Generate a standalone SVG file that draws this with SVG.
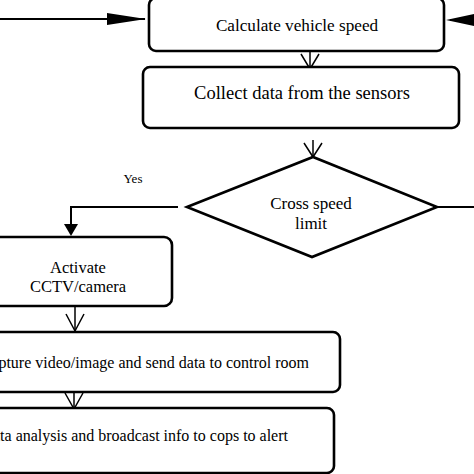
<svg xmlns="http://www.w3.org/2000/svg" width="474" height="474" viewBox="0 0 474 474">
<style>
.box{fill:#fff;stroke:#000;stroke-width:2.6}
.t{font-family:"Liberation Serif","Times New Roman",serif;font-size:17px;fill:#000}
.c{fill:none;stroke:#000;stroke-width:2}
.v{fill:none;stroke:#000;stroke-width:1.5}
</style>
<rect width="474" height="474" fill="#fff"/>
<g id="connectors">
<line class="c" x1="0" y1="19" x2="145" y2="19"/>
<path d="M107,13 L146,19 L107,25 Z" fill="#000"/>
<line class="c" x1="474" y1="20" x2="450" y2="20"/>
<path d="M474,14 L446,20 L474,26 Z" fill="#000"/>
<line class="v" x1="310" y1="52" x2="310" y2="68"/>
<path class="v" d="M301,54 L310,69 L319,54"/>
<line class="v" x1="313" y1="140" x2="313" y2="157"/>
<path class="v" d="M304,143 L313,157 L322,143"/>
<path class="c" d="M178,207 H71 V226"/>
<path d="M64,224 L71,236 L78,224 Z" fill="#000"/>
<line class="c" x1="437" y1="207" x2="474" y2="207"/>
<line class="v" x1="75" y1="306" x2="75" y2="331"/>
<path class="v" d="M66,314 L75,331 L84,314"/>
<line class="v" x1="74" y1="392" x2="74" y2="409"/>
<path class="v" d="M65,393 L74,409 L83,393"/>
<text class="t" x="133" y="183" text-anchor="middle" style="font-size:13px">Yes</text>
</g>
<g id="n1">
<rect class="box" x="149" y="-2" width="295" height="53" rx="7"/>
<text class="t" x="297" y="31" text-anchor="middle" style="font-size:17.2px">Calculate vehicle speed</text>
</g>
<g id="n2">
<rect class="box" x="143" y="67" width="316" height="61" rx="7"/>
<text class="t" x="302" y="99" text-anchor="middle" style="font-size:18.5px">Collect data from the sensors</text>
</g>
<g id="n3">
<path class="box" d="M187,207 L313,157 L437,207 L312,257 Z"/>
<text class="t" x="311" y="209" text-anchor="middle">Cross speed</text>
<text class="t" x="311" y="229" text-anchor="middle">limit</text>
</g>
<g id="n4">
<rect class="box" x="-10" y="237" width="182" height="69" rx="8"/>
<text class="t" x="78" y="273" text-anchor="middle" style="font-size:16.5px">Activate</text>
<text class="t" x="78" y="292" text-anchor="middle" style="font-size:16.5px">CCTV/camera</text>
</g>
<g id="n5">
<rect class="box" x="-10" y="332" width="350" height="60" rx="7"/>
<text class="t" x="309" y="368" text-anchor="end" style="font-size:16px">Capture video/image and send data to control room</text>
</g>
<g id="n6">
<rect class="box" x="-10" y="408" width="344" height="65" rx="7"/>
<text class="t" x="288" y="441" text-anchor="end" style="font-size:16px">Data analysis and broadcast info to cops to alert</text>
</g>
</svg>
